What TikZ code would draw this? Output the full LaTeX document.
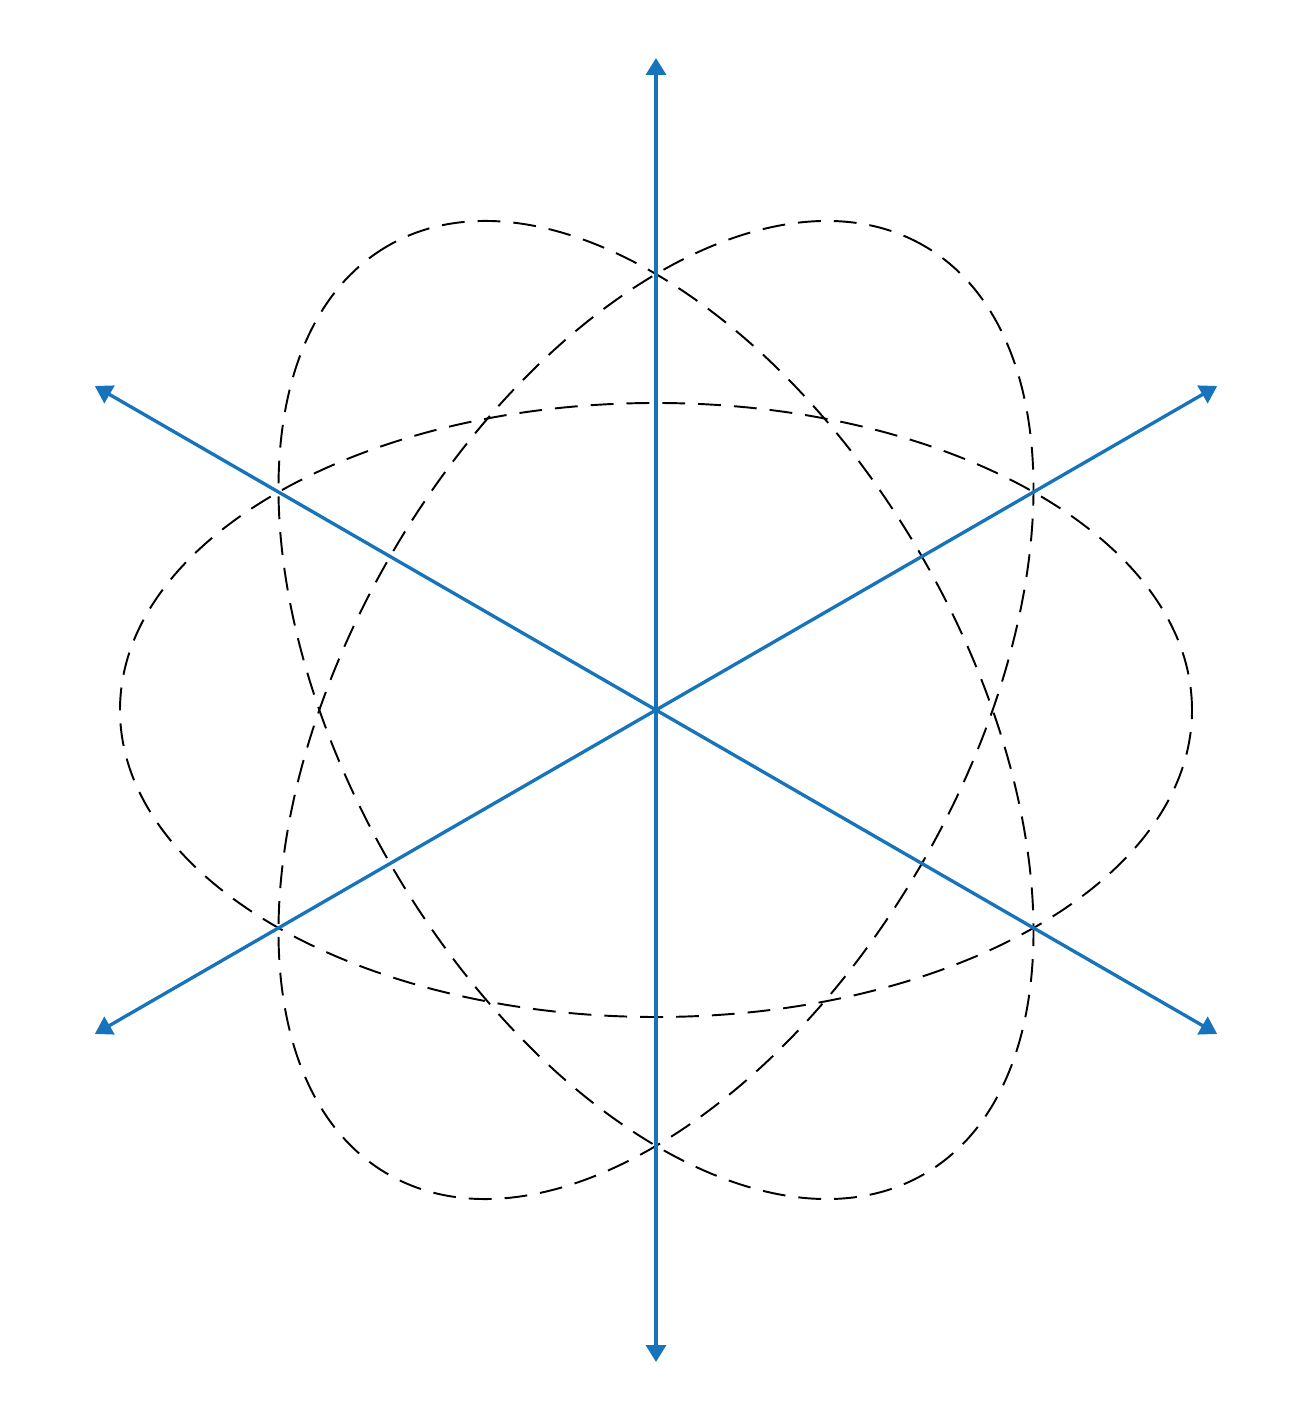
\documentclass[tikz,border=0pt]{standalone}
\usepackage{tikz}
\usetikzlibrary{arrows.meta}

\definecolor{azul}{RGB}{24,116,186}

\begin{document}
\begin{tikzpicture}[eje/.style={draw=azul, line width=0.95pt, {Triangle[width=0.2cm,length=0.17cm]}-{Triangle[width=0.2cm,length=0.17cm]}, color=azul},
    elipse/.style={draw, black, line width=0.55pt, dash pattern=on 6.5pt off 3.7pt}]
            \useasboundingbox (-6.56,-7.08) rectangle (6.55,7.10);
            % Puntos
            \coordinate (o) at (0,0);
            \coordinate (a1) at (90:6.52);
            \coordinate (b1) at (270:6.52);
            \coordinate (a2) at (30:6.48);
            \coordinate (b2) at (210:6.48);
            \coordinate (a3) at (150:6.48);
            \coordinate (b3) at (330:6.48);

            % Elipses
            \draw[elipse] (o) ellipse [x radius=5.36, y radius=3.07];
            \draw[elipse, rotate=60] (o) ellipse [x radius=5.36, y radius=3.07];
            \draw[elipse, rotate=120] (o) ellipse [x radius=5.36, y radius=3.07];

            % Ejes
            \draw[eje] (b1) -- (a1);
            \draw[eje] (b2) -- (a2);
            \draw[eje] (b3) -- (a3);
          \end{tikzpicture}
\end{document}
